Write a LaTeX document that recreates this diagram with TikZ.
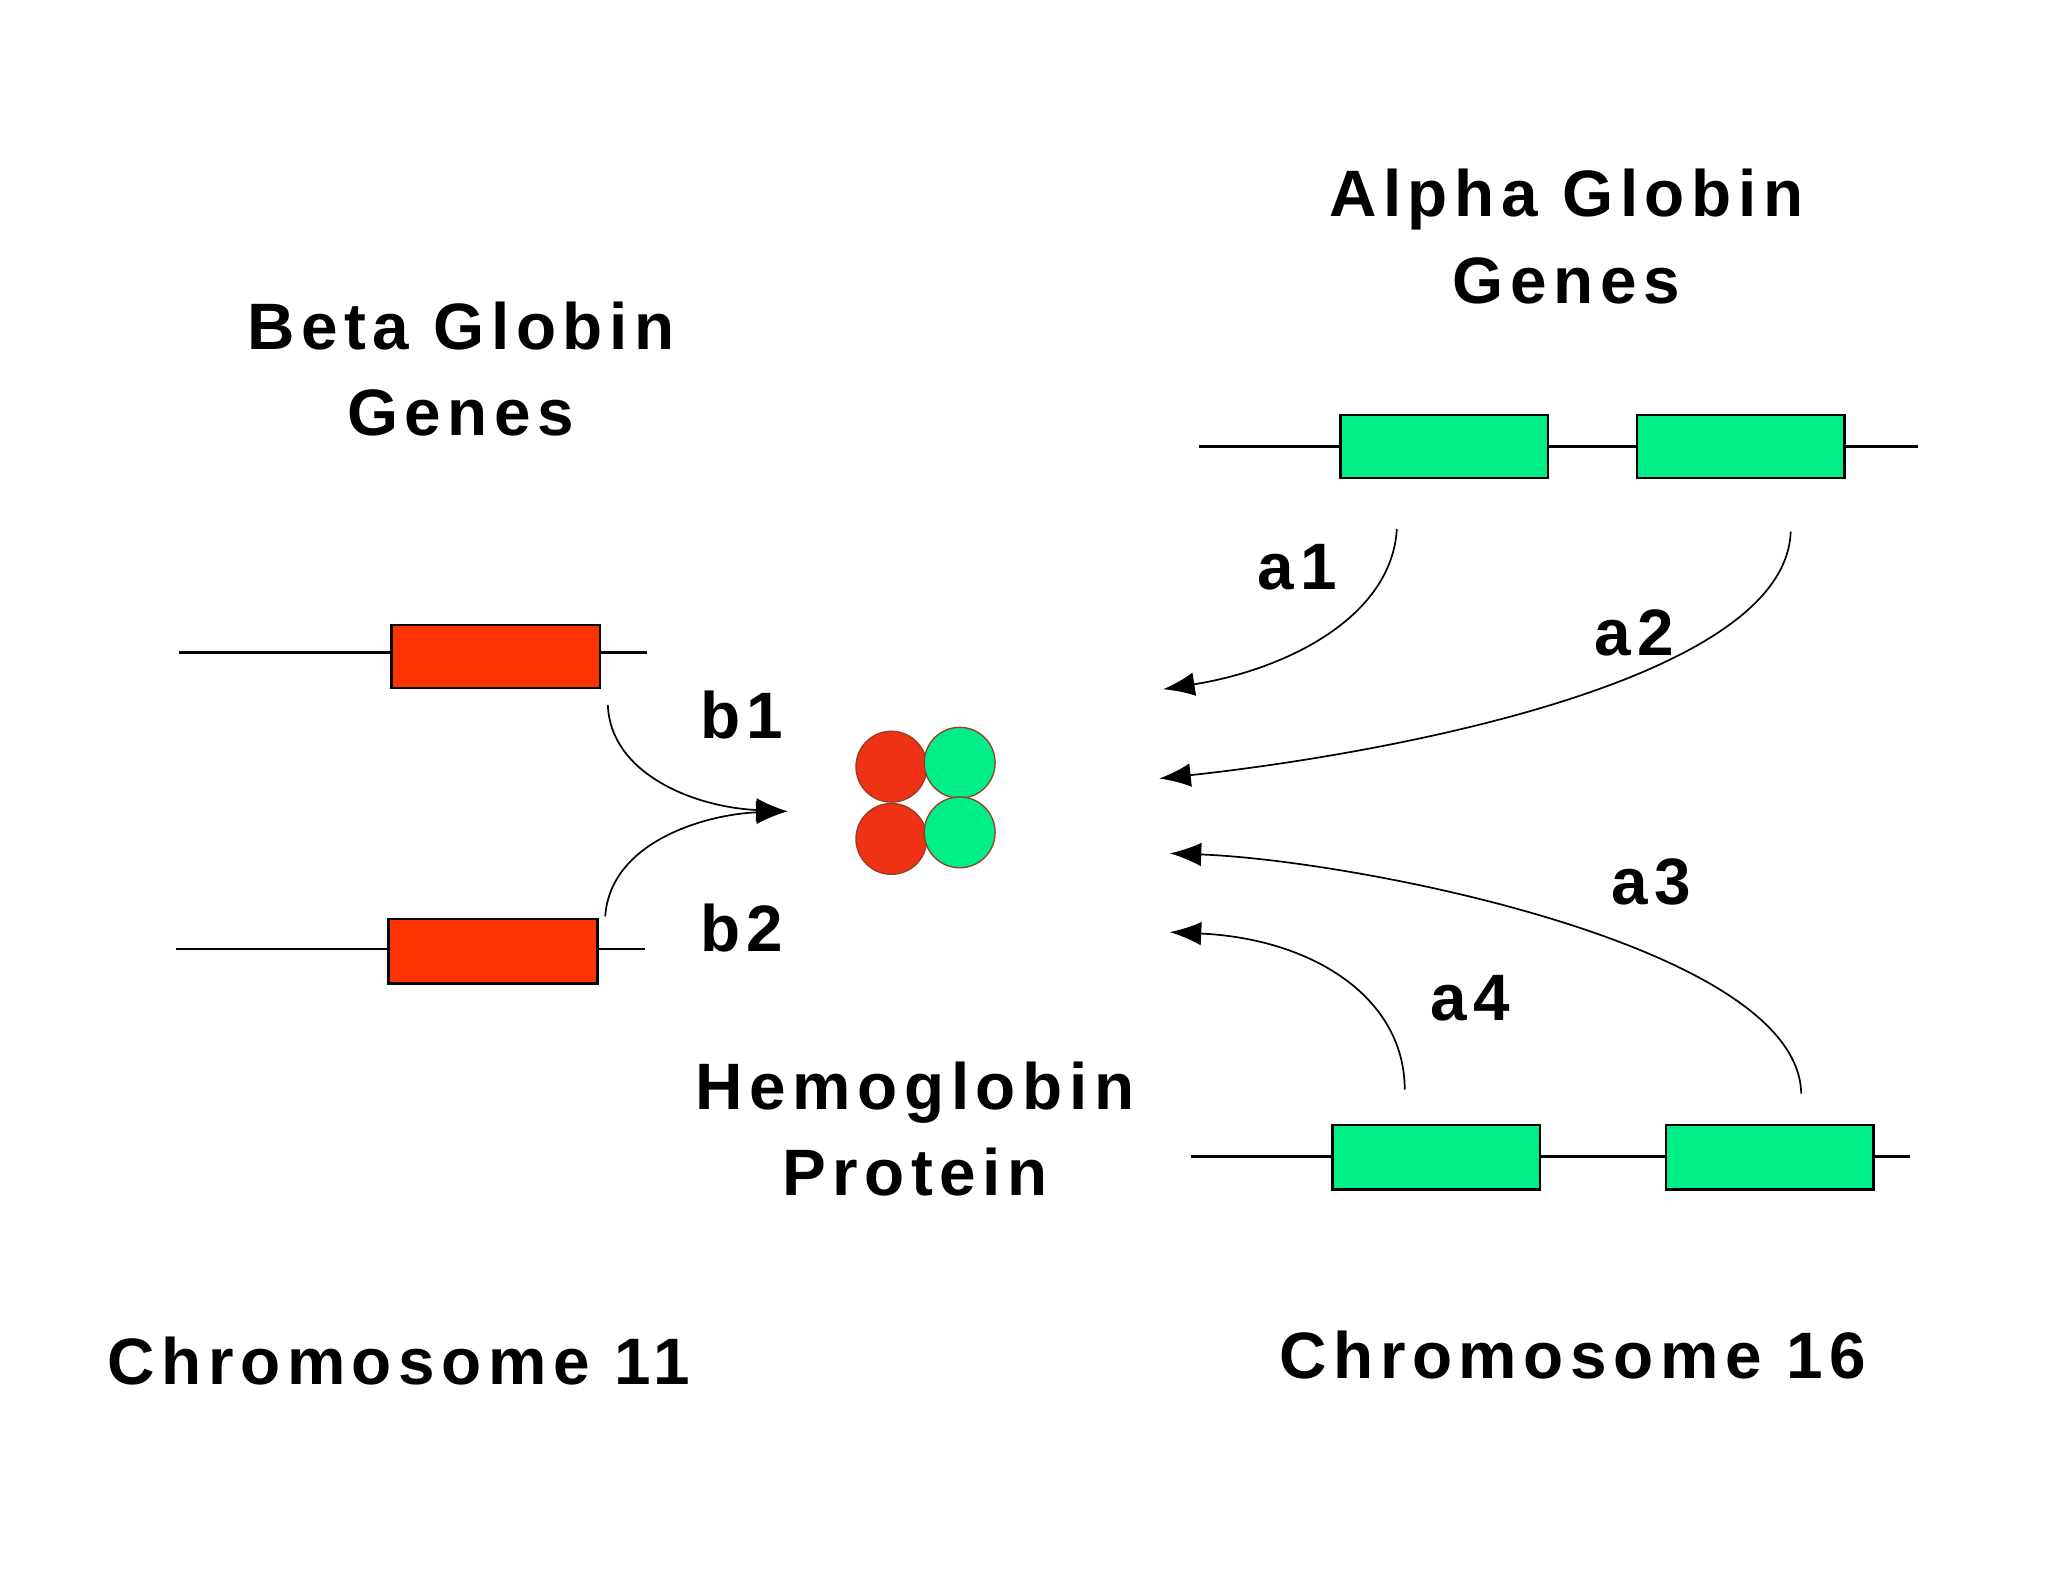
\documentclass[tikz,border=0pt]{standalone}
\usepackage{fontspec}
\setmainfont{Liberation Sans}[LetterSpace=10]
\usetikzlibrary{arrows.meta}
\begin{document}
\begin{tikzpicture}[x=1pt,y=-1pt,
  lbl/.style={font=\fontsize{50}{66}\selectfont\bfseries, align=center},
  chr/.style={line width=1.8pt},
  red gene/.style={draw=black, line width=2pt, fill={rgb,255:red,255;green,51;blue,0}},
  green gene/.style={draw=black, line width=2pt, fill={rgb,255:red,0;green,238;blue,136}},
  sub/.style={circle, minimum size=54, inner sep=0, draw={rgb,255:red,150;green,60;blue,40}, line width=1pt},
  arr/.style={line width=1.3pt, -{Latex[length=24,width=18]}}]
\useasboundingbox (0,0) rectangle (1560,1205);
\fill[white] (0,0) rectangle (1560,1205);
% beta chromosome lines
\coordinate (bl1) at (136,497); \coordinate (br1) at (493,497);
\coordinate (bl2) at (134,723); \coordinate (br2) at (491,723);
\draw[chr] (bl1) -- (br1);
\draw[chr] (bl2) -- (br2);
\node[red gene, minimum width=159, minimum height=48, inner sep=0] (b1g) at (377.5,500) {};
\node[red gene, minimum width=159, minimum height=49, inner sep=0] (b2g) at (375.5,724.5) {};
% alpha chromosome lines
\coordinate (al1) at (913,340); \coordinate (ar1) at (1461,340);
\coordinate (al2) at (907,881); \coordinate (ar2) at (1455,881);
\draw[chr] (al1) -- (ar1);
\draw[chr] (al2) -- (ar2);
\node[green gene, minimum width=158, minimum height=48, inner sep=0] (a1g) at (1100,340) {};
\node[green gene, minimum width=158, minimum height=48, inner sep=0] (a2g) at (1326,340) {};
\node[green gene, minimum width=158, minimum height=49, inner sep=0] (a4g) at (1094,881.5) {};
\node[green gene, minimum width=158, minimum height=49, inner sep=0] (a3g) at (1348,881.5) {};
% hemoglobin subunits
\node[sub, fill={rgb,255:red,240;green,50;blue,20}] (r1) at (679,584) {};
\node[sub, fill={rgb,255:red,240;green,50;blue,20}] (r2) at (679,639) {};
\node[sub, fill={rgb,255:red,0;green,238;blue,136}] (g1) at (731,581) {};
\node[sub, fill={rgb,255:red,0;green,238;blue,136}] (g2) at (731,634) {};
% arrow targets / sources
\coordinate (s1) at (463,537); \coordinate (s2) at (461,698);
\coordinate (tb) at (600,618);
\coordinate (sa1) at (1064,403); \coordinate (ta1) at (886,525);
\coordinate (sa2) at (1364,405); \coordinate (ta2) at (883,593);
\coordinate (sa3) at (1372,833); \coordinate (ta3) at (891,650);
\coordinate (sa4) at (1070,830); \coordinate (ta4) at (891,710);
\draw[arr] (s1) .. controls (465,590) and (530,615) .. (tb);
\draw[arr] (s2) .. controls (465,640) and (540,620) .. (tb);
\draw[arr] (sa1) .. controls (1060,470) and (980,510) .. (ta1);
\draw[arr] (sa2) .. controls (1360,520) and (1050,575) .. (ta2);
\draw[arr] (sa3) .. controls (1370,720) and (1030,655) .. (ta3);
\draw[arr] (sa4) .. controls (1070,760) and (1000,715) .. (ta4);
% labels
\node[lbl] (lb1) at (565,545) {b1};
\node[lbl] (lb2) at (565,707) {b2};
\node[lbl] (la1) at (988,432) {a1};
\node[lbl] (la2) at (1245,482) {a2};
\node[lbl] (la3) at (1258,672) {a3};
\node[lbl] (la4) at (1120,760) {a4};
\node[lbl] (beta) at (351,281) {Beta Globin\\Genes};
\node[lbl] (alpha) at (1193,180) {Alpha Globin\\Genes};
\node[lbl] (hb) at (697,860) {Hemoglobin\\Protein};
\node[lbl] (c11) at (304,1037) {Chromosome 11};
\node[lbl] (c16) at (1198,1032) {Chromosome 16};
\end{tikzpicture}
\end{document}
